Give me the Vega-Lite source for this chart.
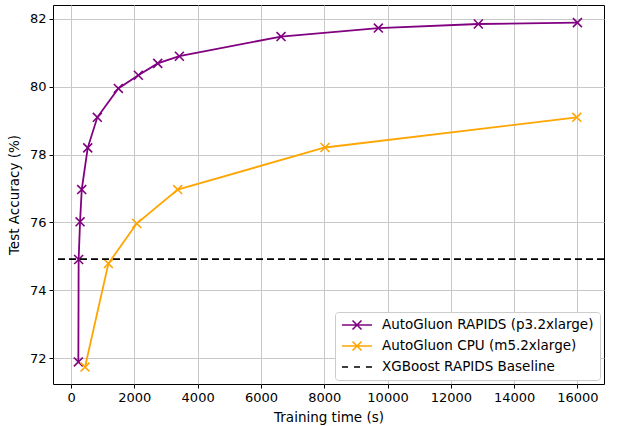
{
  "$schema": "https://vega.github.io/schema/vega-lite/v6.json",
  "width": 551,
  "height": 379,
  "autosize": {"type": "none"},
  "padding": {"left": 53, "top": 5, "right": 21, "bottom": 42},
  "config": {
    "font": "DejaVu Sans",
    "view": {"stroke": "black", "strokeWidth": 1},
    "axis": {
      "labelFontSize": 13,
      "titleFontSize": 13.5,
      "labelColor": "black",
      "titleColor": "black",
      "titleFontWeight": "normal",
      "tickColor": "black",
      "tickSize": 4,
      "domain": false,
      "gridColor": "#c8c8c8",
      "gridWidth": 1,
      "labelPadding": 3
    }
  },
  "data": {
    "values": [
      {"series": "AutoGluon RAPIDS (p3.2xlarge)", "time": 231, "acc": 71.89},
      {"series": "AutoGluon RAPIDS (p3.2xlarge)", "time": 240, "acc": 74.91},
      {"series": "AutoGluon RAPIDS (p3.2xlarge)", "time": 285, "acc": 76.02},
      {"series": "AutoGluon RAPIDS (p3.2xlarge)", "time": 338, "acc": 76.97},
      {"series": "AutoGluon RAPIDS (p3.2xlarge)", "time": 527, "acc": 78.2},
      {"series": "AutoGluon RAPIDS (p3.2xlarge)", "time": 831, "acc": 79.1},
      {"series": "AutoGluon RAPIDS (p3.2xlarge)", "time": 1495, "acc": 79.95},
      {"series": "AutoGluon RAPIDS (p3.2xlarge)", "time": 2127, "acc": 80.34},
      {"series": "AutoGluon RAPIDS (p3.2xlarge)", "time": 2739, "acc": 80.69},
      {"series": "AutoGluon RAPIDS (p3.2xlarge)", "time": 3423, "acc": 80.9},
      {"series": "AutoGluon RAPIDS (p3.2xlarge)", "time": 6635, "acc": 81.48},
      {"series": "AutoGluon RAPIDS (p3.2xlarge)", "time": 9710, "acc": 81.73},
      {"series": "AutoGluon RAPIDS (p3.2xlarge)", "time": 12870, "acc": 81.85},
      {"series": "AutoGluon RAPIDS (p3.2xlarge)", "time": 16000, "acc": 81.89},
      {"series": "AutoGluon CPU (m5.2xlarge)", "time": 442, "acc": 71.74},
      {"series": "AutoGluon CPU (m5.2xlarge)", "time": 1180, "acc": 74.79},
      {"series": "AutoGluon CPU (m5.2xlarge)", "time": 2075, "acc": 75.97},
      {"series": "AutoGluon CPU (m5.2xlarge)", "time": 3370, "acc": 76.97},
      {"series": "AutoGluon CPU (m5.2xlarge)", "time": 8025, "acc": 78.21},
      {"series": "AutoGluon CPU (m5.2xlarge)", "time": 15980, "acc": 79.1},
      {"series": "XGBoost RAPIDS Baseline", "acc": 74.92}
    ]
  },
  "encoding": {
    "y": {
      "field": "acc",
      "type": "quantitative",
      "title": "Test Accuracy (%)",
      "scale": {"domain": [71.24, 82.41], "nice": false, "zero": false},
      "axis": {"values": [72, 74, 76, 78, 80, 82], "titlePadding": 8}
    },
    "color": {
      "field": "series",
      "type": "nominal",
      "scale": {
        "domain": ["AutoGluon RAPIDS (p3.2xlarge)", "AutoGluon CPU (m5.2xlarge)", "XGBoost RAPIDS Baseline"],
        "range": ["#800080", "#FFA500", "black"]
      },
      "legend": {
        "title": null,
        "orient": "none",
        "legendX": 282,
        "legendY": 307,
        "direction": "vertical",
        "fillColor": "white",
        "strokeColor": "#cccccc",
        "cornerRadius": 3,
        "padding": 6,
        "labelFontSize": 13.5,
        "labelColor": "black",
        "labelLimit": 0,
        "labelOffset": 9,
        "symbolSize": 900,
        "symbolStrokeWidth": 1.6,
        "clipHeight": 14,
        "rowPadding": 7,
        "encode": {
          "symbols": {
            "update": {
              "shape": {"signal": "datum.value === 'XGBoost RAPIDS Baseline' ? 'M-1,0L-0.6,0M-0.2,0L0.2,0M0.6,0L1,0' : 'M-1,0L1,0M-0.3,-0.3L0.3,0.3M-0.3,0.3L0.3,-0.3'"},
              "fill": {"value": "transparent"}
            }
          }
        }
      }
    }
  },
  "layer": [
    {
      "transform": [{"filter": "datum.series !== 'XGBoost RAPIDS Baseline'"}],
      "mark": {
        "type": "line",
        "strokeWidth": 1.8,
        "point": {"shape": "M-1,-1L1,1M-1,1L1,-1", "filled": false, "size": 80, "strokeWidth": 1.6}
      },
      "encoding": {
        "x": {
          "field": "time",
          "type": "quantitative",
          "title": "Training time (s)",
          "scale": {"domain": [-570, 16840], "nice": false, "zero": false},
          "axis": {"values": [0, 2000, 4000, 6000, 8000, 10000, 12000, 14000, 16000], "format": "d", "titlePadding": 6}
        }
      }
    },
    {
      "transform": [{"filter": "datum.series === 'XGBoost RAPIDS Baseline'"}],
      "mark": {"type": "rule", "strokeDash": [7, 4], "strokeWidth": 1.6},
      "encoding": {}
    }
  ]
}
